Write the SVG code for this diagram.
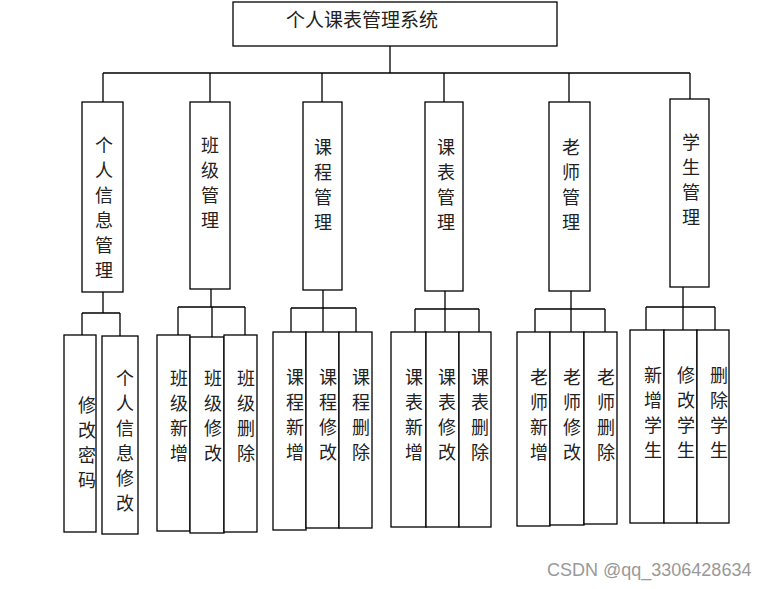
<svg xmlns="http://www.w3.org/2000/svg" width="772" height="589" viewBox="0 0 772 589">
<style>
.b{fill:#fff;stroke:#000;stroke-width:1.3}
#connectors path{fill:none;stroke:#000;stroke-width:1.3}
text{font-family:"Noto Sans CJK SC","Liberation Sans",sans-serif;font-size:18px;fill:#222;text-anchor:middle}
.wm{font-family:"Liberation Sans",sans-serif;font-size:18px;fill:#999;text-anchor:start}
</style>
<rect width="772" height="589" fill="#fff"/>
<g id="connectors">
<path d="M390 46V73M103 73H690M103 73V102M210 73V102M322 73V102M444 73V102M569 73V102M690 73V99"/>
<path d="M103 292V313M82 313H120M82 313V335M120 313V336"/>
<path d="M211 289V307M178 307H245M178 307V335M212 307V337M245 307V335"/>
<path d="M323 290V308M291 308H356M291 308V332M323 308V332M356 308V332"/>
<path d="M445 291V309M415 309H479M415 309V332M445 309V332M479 309V332"/>
<path d="M571 291V309M535 309H605M535 309V332M571 309V332M605 309V332"/>
<path d="M683 287V307M646 307H715M646 307V330M683 307V330M715 307V330"/>
</g>
<g id="title"><rect class="b" x="233" y="2" width="324" height="44"/><text x="362" y="27" style="font-size:19px">个人课表管理系统</text></g>
<g id="n1"><rect class="b" x="82" y="102" width="41" height="190"/><text><tspan x="104" y="152">个</tspan><tspan x="104" y="177">人</tspan><tspan x="104" y="202">信</tspan><tspan x="104" y="227">息</tspan><tspan x="104" y="252">管</tspan><tspan x="104" y="277">理</tspan></text></g>
<g id="n2"><rect class="b" x="190" y="102" width="40" height="187"/><text><tspan x="210" y="152">班</tspan><tspan x="210" y="177">级</tspan><tspan x="210" y="202">管</tspan><tspan x="210" y="227">理</tspan></text></g>
<g id="n3"><rect class="b" x="303" y="102" width="39" height="188"/><text><tspan x="323" y="154">课</tspan><tspan x="323" y="179">程</tspan><tspan x="323" y="204">管</tspan><tspan x="323" y="229">理</tspan></text></g>
<g id="n4"><rect class="b" x="425" y="102" width="38" height="189"/><text><tspan x="446" y="154">课</tspan><tspan x="446" y="179">表</tspan><tspan x="446" y="204">管</tspan><tspan x="446" y="229">理</tspan></text></g>
<g id="n5"><rect class="b" x="549" y="102" width="41" height="189"/><text><tspan x="571" y="154">老</tspan><tspan x="571" y="179">师</tspan><tspan x="571" y="204">管</tspan><tspan x="571" y="229">理</tspan></text></g>
<g id="n6"><rect class="b" x="670" y="99" width="39" height="188"/><text><tspan x="691" y="149">学</tspan><tspan x="691" y="174">生</tspan><tspan x="691" y="199">管</tspan><tspan x="691" y="224">理</tspan></text></g>
<g id="c1a"><rect class="b" x="64" y="335" width="32" height="197"/><text><tspan x="87" y="412">修</tspan><tspan x="87" y="437">改</tspan><tspan x="87" y="462">密</tspan><tspan x="87" y="487">码</tspan></text></g>
<g id="c1b"><rect class="b" x="102" y="336" width="36" height="198"/><text><tspan x="125" y="385">个</tspan><tspan x="125" y="410">人</tspan><tspan x="125" y="435">信</tspan><tspan x="125" y="460">息</tspan><tspan x="125" y="485">修</tspan><tspan x="125" y="510">改</tspan></text></g>
<g id="c2a"><rect class="b" x="157" y="335" width="33" height="196"/><text><tspan x="179" y="385">班</tspan><tspan x="179" y="410">级</tspan><tspan x="179" y="435">新</tspan><tspan x="179" y="460">增</tspan></text></g>
<g id="c2b"><rect class="b" x="190" y="337" width="34" height="196"/><text><tspan x="213" y="385">班</tspan><tspan x="213" y="410">级</tspan><tspan x="213" y="435">修</tspan><tspan x="213" y="460">改</tspan></text></g>
<g id="c2c"><rect class="b" x="224" y="335" width="33" height="197"/><text><tspan x="246" y="385">班</tspan><tspan x="246" y="410">级</tspan><tspan x="246" y="435">删</tspan><tspan x="246" y="460">除</tspan></text></g>
<g id="c3a"><rect class="b" x="273" y="332" width="33" height="198"/><text><tspan x="295" y="384">课</tspan><tspan x="295" y="409">程</tspan><tspan x="295" y="434">新</tspan><tspan x="295" y="459">增</tspan></text></g>
<g id="c3b"><rect class="b" x="306" y="332" width="33" height="196"/><text><tspan x="328" y="384">课</tspan><tspan x="328" y="409">程</tspan><tspan x="328" y="434">修</tspan><tspan x="328" y="459">改</tspan></text></g>
<g id="c3c"><rect class="b" x="339" y="332" width="33" height="196"/><text><tspan x="361" y="384">课</tspan><tspan x="361" y="409">程</tspan><tspan x="361" y="434">删</tspan><tspan x="361" y="459">除</tspan></text></g>
<g id="c4a"><rect class="b" x="391" y="332" width="35" height="195"/><text><tspan x="414" y="384">课</tspan><tspan x="414" y="409">表</tspan><tspan x="414" y="434">新</tspan><tspan x="414" y="459">增</tspan></text></g>
<g id="c4b"><rect class="b" x="426" y="332" width="33" height="195"/><text><tspan x="447" y="384">课</tspan><tspan x="447" y="409">表</tspan><tspan x="447" y="434">修</tspan><tspan x="447" y="459">改</tspan></text></g>
<g id="c4c"><rect class="b" x="459" y="332" width="32" height="195"/><text><tspan x="480" y="384">课</tspan><tspan x="480" y="409">表</tspan><tspan x="480" y="434">删</tspan><tspan x="480" y="459">除</tspan></text></g>
<g id="c5a"><rect class="b" x="517" y="332" width="33" height="194"/><text><tspan x="539" y="384">老</tspan><tspan x="539" y="409">师</tspan><tspan x="539" y="434">新</tspan><tspan x="539" y="459">增</tspan></text></g>
<g id="c5b"><rect class="b" x="550" y="332" width="34" height="193"/><text><tspan x="572" y="384">老</tspan><tspan x="572" y="409">师</tspan><tspan x="572" y="434">修</tspan><tspan x="572" y="459">改</tspan></text></g>
<g id="c5c"><rect class="b" x="584" y="332" width="33" height="192"/><text><tspan x="606" y="384">老</tspan><tspan x="606" y="409">师</tspan><tspan x="606" y="434">删</tspan><tspan x="606" y="459">除</tspan></text></g>
<g id="c6a"><rect class="b" x="630" y="330" width="34" height="193"/><text><tspan x="653" y="382">新</tspan><tspan x="653" y="407">增</tspan><tspan x="653" y="432">学</tspan><tspan x="653" y="457">生</tspan></text></g>
<g id="c6b"><rect class="b" x="664" y="330" width="33" height="193"/><text><tspan x="686" y="382">修</tspan><tspan x="686" y="407">改</tspan><tspan x="686" y="432">学</tspan><tspan x="686" y="457">生</tspan></text></g>
<g id="c6c"><rect class="b" x="697" y="330" width="32" height="193"/><text><tspan x="719" y="382">删</tspan><tspan x="719" y="407">除</tspan><tspan x="719" y="432">学</tspan><tspan x="719" y="457">生</tspan></text></g>
<text class="wm" x="547" y="576">CSDN @qq_3306428634</text>
</svg>
